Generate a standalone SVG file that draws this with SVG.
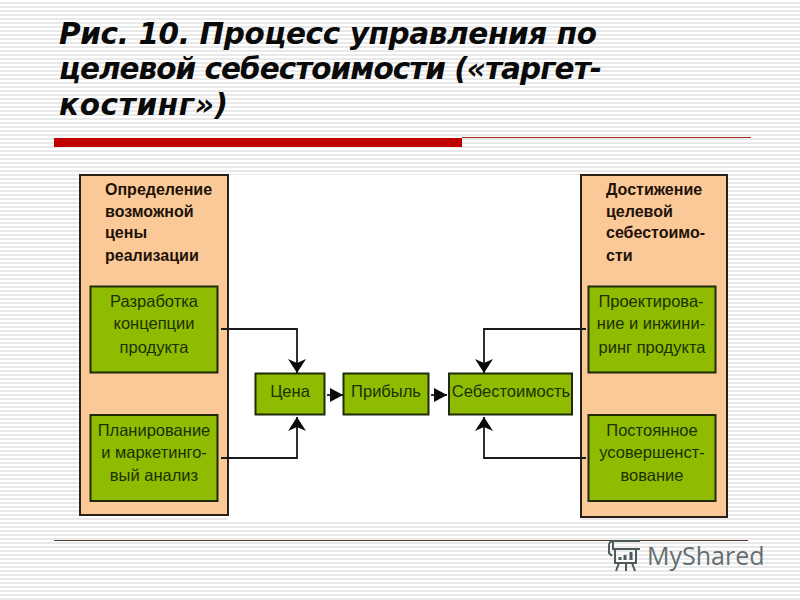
<svg xmlns="http://www.w3.org/2000/svg" width="800" height="600" viewBox="0 0 800 600">
<style>
.title{font:italic bold 29.500px "DejaVu Sans",Verdana,sans-serif;fill:#0a0a0a}
.head{font:bold 16px "Liberation Sans",Arial,sans-serif;fill:#1e1208}
.lbl{font:16.500px "Liberation Sans",Arial,sans-serif;fill:#1c3000;text-anchor:middle}
.panel{fill:#fbc998;stroke:#2a2015;stroke-width:2}
.box{fill:#8fbc00;stroke:#1f2a08;stroke-width:2}
.conn{fill:none;stroke:#1a1a1a;stroke-width:1.8}
</style>
<defs>
<pattern id="stripes" width="4" height="4" patternUnits="userSpaceOnUse"><rect width="4" height="4" fill="#ffffff"/><rect y="2" width="4" height="2" fill="#e9e9e9"/></pattern>
<marker id="arrow" markerWidth="20" markerHeight="20" refX="15" refY="10" orient="auto" markerUnits="userSpaceOnUse"><path d="M1,1 L15,10 L1,19 L5,10 Z" fill="#0a0a0a"/></marker>
<marker id="solid" markerWidth="18" markerHeight="16" refX="14" refY="8" orient="auto" markerUnits="userSpaceOnUse"><path d="M1,1 L14,8 L1,15 Z" fill="#0a0a0a"/></marker>
</defs>
<rect id="background" width="800" height="600" fill="url(#stripes)"/>
<g id="title">
<text class="title" x="59" y="44" textLength="538">Рис. 10. Процесс управления по</text>
<text class="title" x="59" y="79" textLength="543">целевой себестоимости («таргет-</text>
<text class="title" x="59" y="115" textLength="169">костинг»)</text>
</g>
<g id="rules">
<rect x="54" y="138" width="408" height="9" fill="#c00000"/>
<rect x="462" y="137" width="289" height="1" fill="#a03020"/>
<rect x="54" y="540" width="694" height="1" fill="#5a4035"/>
</g>
<rect id="canvas" x="228" y="175" width="353" height="345" fill="#ffffff"/>
<g id="panel-left">
<rect class="panel" x="80" y="175" width="148" height="340"/>
<text class="head" x="105" y="195">Определение</text>
<text class="head" x="105" y="217">возможной</text>
<text class="head" x="105" y="238">цены</text>
<text class="head" x="105" y="261">реализации</text>
</g>
<g id="panel-right">
<rect class="panel" x="581" y="175" width="146" height="342"/>
<text class="head" x="606" y="195">Достижение</text>
<text class="head" x="606" y="217">целевой</text>
<text class="head" x="606" y="238">себестоимо-</text>
<text class="head" x="606" y="261">сти</text>
</g>
<g id="node-razrabotka">
<rect class="box" x="90.500" y="286.500" width="127" height="86"/>
<text class="lbl" x="154" y="307">Разработка</text>
<text class="lbl" x="154" y="329">концепции</text>
<text class="lbl" x="154" y="353">продукта</text>
</g>
<g id="node-planirovanie">
<rect class="box" x="90.500" y="415" width="127" height="86"/>
<text class="lbl" x="154" y="436">Планирование</text>
<text class="lbl" x="154" y="458">и маркетинго-</text>
<text class="lbl" x="154" y="481">вый анализ</text>
</g>
<g id="node-proektirovanie">
<rect class="box" x="588.500" y="286.500" width="127" height="86"/>
<text class="lbl" x="651" y="307">Проектирова-</text>
<text class="lbl" x="651" y="329">ние и инжини-</text>
<text class="lbl" x="652" y="353">ринг продукта</text>
</g>
<g id="node-usovershenstvovanie">
<rect class="box" x="588.500" y="415" width="127" height="86"/>
<text class="lbl" x="652" y="436">Постоянное</text>
<text class="lbl" x="652" y="458">усовершенст-</text>
<text class="lbl" x="652" y="481">вование</text>
</g>
<g id="node-cena">
<rect class="box" x="255.500" y="373.500" width="69" height="41"/>
<text class="lbl" x="290" y="397">Цена</text>
</g>
<g id="node-pribyl">
<rect class="box" x="343.500" y="373.500" width="85" height="41"/>
<text class="lbl" x="386" y="397">Прибыль</text>
</g>
<g id="node-sebestoimost">
<rect class="box" x="449" y="373.500" width="123" height="41"/>
<text class="lbl" x="511" y="397">Себестоимость</text>
</g>
<g id="connectors">
<path class="conn" marker-end="url(#arrow)" d="M221,329 H297 V373"/>
<path class="conn" marker-end="url(#arrow)" d="M221,458 H297 V417"/>
<path class="conn" marker-end="url(#arrow)" d="M586,329 H484 V373"/>
<path class="conn" marker-end="url(#arrow)" d="M586,458 H484 V417"/>
<path class="conn" marker-end="url(#solid)" d="M327,395 H343"/>
<path class="conn" marker-end="url(#solid)" d="M431,395 H447"/>
</g>
<g id="logo" fill="none" stroke="#4d5b5c" stroke-width="2">
<path d="M613,541 H640 M613,541 Q609,541 609,546 V553 L612,556 M613,541 V549 H640 M615,549 V563 H636 V549 M619,563 L616,571 M626,563 V571 M632,563 L635,571"/>
<path d="M620,557 V560 M625,555 V560 M631,552 V560" stroke-width="3"/>
<text x="647" y="565" font-family="'Open Sans','Liberation Sans',sans-serif" font-size="25" fill="#636e6f" stroke="none">MyShared</text>
</g>
</svg>
